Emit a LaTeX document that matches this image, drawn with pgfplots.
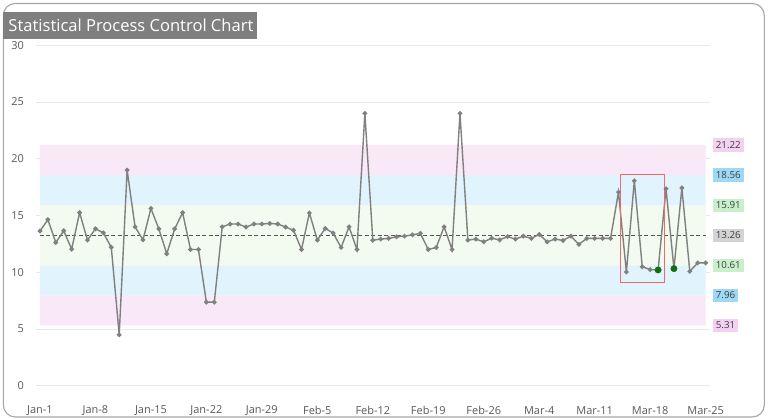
\documentclass[border=0pt]{standalone}
\usepackage{fontspec}
\setmainfont{Open Sans}
\usepackage{pgfplots}
\usepackage{pgfplotstable}
\pgfplotsset{compat=1.18}
\definecolor{bordergray}{HTML}{A6A6A6}
\definecolor{titlegray}{HTML}{7F7F7F}
\definecolor{tickgray}{HTML}{595959}
\definecolor{gridgray}{HTML}{E8E8E8}
\definecolor{bandpink}{HTML}{F9E8F8}
\definecolor{bandblue}{HTML}{E1F3FC}
\definecolor{bandgreen}{HTML}{F3FAF0}
\definecolor{labpink}{HTML}{F2D2F0}
\definecolor{labblue}{HTML}{9DD8F5}
\definecolor{labgreen}{HTML}{C9F0CB}
\definecolor{labgray}{HTML}{D3D3D3}
\definecolor{linegray}{HTML}{808080}
\definecolor{meangray}{HTML}{555555}
\definecolor{boxred}{HTML}{F06A6A}
\definecolor{dotgreen}{HTML}{0E6E12}
\definecolor{labtext}{HTML}{404040}

\pgfplotstableread{
d v
0 13.63
1 14.63
2 12.62
3 13.65
4 12.03
5 15.25
6 12.83
7 13.83
8 13.47
9 12.2
10 4.48
11 19.0
12 14.0
13 12.85
14 15.62
15 13.82
16 11.63
17 13.82
18 15.25
19 12.0
20 12.0
21 7.36
22 7.36
23 14.0
24 14.25
25 14.25
26 13.98
27 14.25
28 14.25
29 14.3
30 14.25
31 13.98
32 13.7
33 12.0
34 15.22
35 12.83
36 13.86
37 13.45
38 12.18
39 14.0
40 12.0
41 24.0
42 12.82
43 12.92
44 12.98
45 13.12
46 13.18
47 13.3
48 13.42
49 12.0
50 12.18
51 14.0
52 12.0
53 24.0
54 12.83
55 12.92
56 12.68
57 13.0
58 12.85
59 13.14
60 12.92
61 13.18
62 12.98
63 13.33
64 12.68
65 12.92
66 12.8
67 13.18
68 12.45
69 12.98
70 12.98
71 12.98
72 12.98
73 17.06
74 10.02
75 18.06
76 10.49
77 10.23
78 10.2
79 17.35
80 10.32
81 17.44
82 10.08
83 10.82
84 10.82
}\spcdata

\pgfplotstableread{
d v
78 10.2
80 10.32
}\flagged

\newcommand\tickfont{\fontsize{11}{13}\selectfont}
\begin{document}
\begin{tikzpicture}
\useasboundingbox (0bp,0bp) rectangle (768bp,420bp);
\fill[white] (0bp,0bp) rectangle (768bp,420bp);
\draw[bordergray, line width=1.1bp, rounded corners=12bp] (3.3bp,3bp) rectangle (764.3bp,416.5bp);
\fill[titlegray] (2.7bp,381bp) rectangle (257bp,408bp);
\node[anchor=west, inner sep=0pt, text=white, font=\fontsize{16.6}{19}\selectfont] at (8.3bp,394.5bp) {Statistical Process Control Chart};
\begin{axis}[
  at={(36bp,34.3bp)}, anchor=south west,
  scale only axis, width=673.6bp, height=340.4bp,
  xmin=-0.5, xmax=84.5, ymin=0, ymax=30,
  axis line style={draw=none},
  major tick length=0pt,
  ytick={0,5,10,15,20,25,30},
  xtick={0,7,14,21,28,35,42,49,56,63,70,77,84},
  xticklabels={Jan-1,Jan-8,Jan-15,Jan-22,Jan-29,Feb-5,Feb-12,Feb-19,Feb-26,Mar-4,Mar-11,Mar-18,Mar-25},
  ymajorgrids, grid style={color=gridgray, line width=0.8bp},
  /pgf/number format/assume math mode=true,
  yticklabel style={anchor=east, inner sep=0pt, xshift=-12bp, font=\tickfont, text=tickgray},
  xticklabel style={anchor=center, inner sep=0pt, yshift=-25bp, font=\tickfont, text=tickgray},
  clip=false,
]
% bands
\addplot[draw=none, fill=bandpink] coordinates {(0,5.31) (84,5.31) (84,7.96) (0,7.96) (0,5.31)};
\addplot[draw=none, fill=bandblue] coordinates {(0,7.96) (84,7.96) (84,10.61) (0,10.61) (0,7.96)};
\addplot[draw=none, fill=bandgreen] coordinates {(0,10.61) (84,10.61) (84,15.91) (0,15.91) (0,10.61)};
\addplot[draw=none, fill=bandblue] coordinates {(0,15.91) (84,15.91) (84,18.56) (0,18.56) (0,15.91)};
\addplot[draw=none, fill=bandpink] coordinates {(0,18.56) (84,18.56) (84,21.22) (0,21.22) (0,18.56)};
% mean
\addplot[meangray, line width=1bp, dash pattern=on 4bp off 2.5bp] coordinates {(0,13.26) (84,13.26)};
% data
\addplot[linegray, line width=1.4bp, mark=*, mark size=1.6bp, mark options={solid, fill=linegray, draw=linegray}] table[x=d, y=v] {\spcdata};
\addplot[only marks, mark=*, mark size=3.2bp, mark options={fill=dotgreen, draw=dotgreen}] table[x=d, y=v] {\flagged};
% highlight box
\addplot[boxred, line width=1bp] coordinates {(73.22,9.08) (78.83,9.08) (78.83,18.65) (73.22,18.65) (73.22,9.08)};
% limit labels
\foreach \val/\col in {21.22/labpink, 18.56/labblue, 15.91/labgreen, 13.26/labgray, 10.61/labgreen, 7.96/labblue, 5.31/labpink} {
  \edef\temp{\noexpand\node[anchor=west, fill=\col, text=labtext, inner xsep=3bp, inner ysep=0pt, minimum height=13.3bp, font=\noexpand\fontsize{9.8}{11}\noexpand\selectfont, xshift=7bp] at (axis cs:84,\val) {\val};}
  \temp
}
\end{axis}
\end{tikzpicture}
\end{document}
